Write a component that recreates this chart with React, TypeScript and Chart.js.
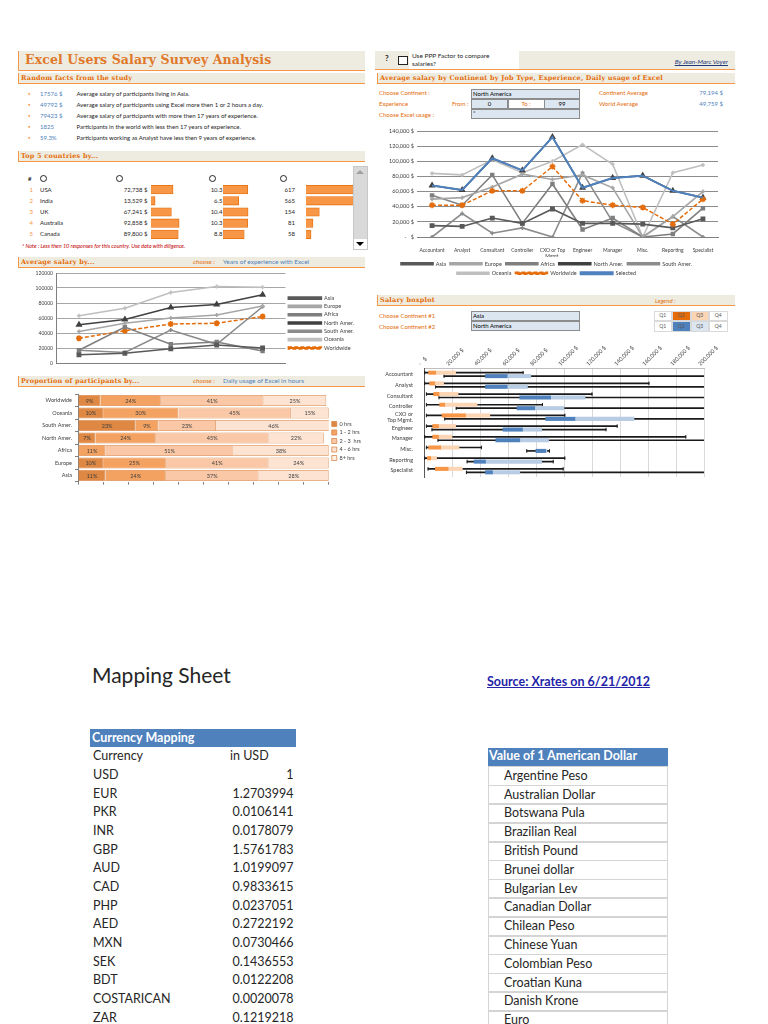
import React, { useEffect, useRef } from "react";
import { Chart, registerables } from "chart.js";
Chart.register(...registerables);

const SANS = "Lato, 'Liberation Sans', sans-serif";
const SERIF = "'DejaVu Serif', 'Liberation Serif', serif";
const ORANGE = "#E46C0A";
const BLUE = "#4F81BD";

// ---------- facts ----------
const factValues = ["17576 $", "49792 $", "79423 $", "1825", "59.3%"];
const factTexts = [
  "Average salary of participants living in Asia.",
  "Average salary of participants using Excel more then 1 or 2 hours a day.",
  "Average salary of participants with more then 17 years of experience.",
  "Participants in the world with less then 17 years of experience.",
  "Participants working as Analyst have less then 9 years of experience.",
];

// ---------- top 5 ----------
const top5Countries = ["USA", "India", "UK", "Australia", "Canada"];
const top5Salary = [72738, 13529, 67241, 92858, 89800];
const top5Experience = [10.3, 6.5, 10.4, 10.3, 8.8];
const top5Count = [617, 565, 154, 81, 58];

// ---------- salary by job type ----------
const jobTypes = ["Accountant", "Analyst", "Consultant", "Controller", ["CXO or Top", "Mgmt."], "Engineer", "Manager", "Misc.", "Reporting", "Specialist"];
const jobAsia = [15000, 14000, 25000, 18000, 37000, 18000, 18000, 17000, 12000, 24000];
const jobEurope = [50000, 52000, 66000, 83000, 76000, 82000, 65000, 0, 27000, 60000];
const jobAfrica = [55000, 42000, 82000, 18000, 70000, 10000, 25000, 0, 4000, 38000];
const jobNorthAmer = [68000, 62000, 104000, 88000, 132000, 65000, 78000, 81000, 61000, 52000];
const jobSouthAmer = [0, 31000, 5000, 12000, 0, 85000, 20000, 0, 27000, 0];
const jobOceania = [84000, 82000, 102000, 85000, 100000, 122000, 96000, 0, 85000, 95000];
const jobWorldwide = [42000, 42000, 61000, 61000, 93000, 48000, 42000, 39000, 17000, 50000];
const jobSelected = [68000, 62000, 104000, 88000, 132000, 65000, 78000, 81000, 61000, 52000];
const jobYTicks = [0, 20000, 40000, 60000, 80000, 100000, 120000, 140000];
const legendOrder = ["Asia", "Europe", "Africa", "North Amer.", "South Amer.", "Oceania", "Worldwide", "Selected"];

// ---------- salary by experience ----------
const expLabels = ["0 - 2 yrs", "2 - 5 yrs", "5 - 10 yrs", "10 - 15 yrs", "15+ yrs"];
const expAsia = [11000, 13000, 19000, 24000, 20000];
const expEurope = [42000, 53000, 60000, 64000, 76000];
const expAfrica = [17000, 48000, 25000, 28000, 16000];
const expNorthAmer = [51000, 58000, 74000, 78000, 91000];
const expSouthAmer = [17000, 14000, 44000, 25000, 75000];
const expOceania = [63000, 73000, 94000, 102000, 101000];
const expWorldwide = [33000, 43000, 52000, 53000, 62000];

// ---------- proportion ----------
const propRegions = ["Worldwide", "Oceania", "South Amer.", "North Amer.", "Africa", "Europe", "Asia"];
const propUsage = ["0 hrs", "1 - 2 hrs", "2 - 3  hrs", "4 - 6 hrs", "8+ hrs"];
const prop0 = [9, 10, 23, 7, 0, 10, 11];
const prop1 = [24, 30, 9, 24, 11, 25, 24];
const prop2 = [41, 45, 23, 45, 51, 41, 37];
const prop3 = [25, 15, 46, 22, 38, 24, 28];
const prop4 = [0, 0, 0, 0, 0, 0, 0];

// ---------- boxplot ----------
const boxCategories = ["Accountant", "Analyst", "Consultant", "Controller", ["CXO or", "Top Mgmt."], "Engineer", "Manager", "Misc.", "Reporting", "Specialist"];
const asiaMin = [500, 500, 1700, 1700, 1700, 1700, 500, 1700, 500, 2900];
const asiaQ1 = [3300, 4000, 6900, 11200, 12900, 6200, 6200, 3300, 2400, 8100];
const asiaMed = [8300, 7600, 10700, 14800, 29600, 10300, 10300, 11900, 4800, 17200];
const asiaQ3 = [22600, 14000, 24300, 37900, 47000, 22600, 20000, 25000, 9000, 27400];
const asiaMax = [70800, 160700, 120000, 84600, 100600, 138000, 187000, 41000, 100600, 99400];
const naMin = [14300, 8300, 10700, 23000, 14800, 5700, 10000, 73400, 30800, 30300];
const naQ1 = [43900, 43900, 68400, 66500, 87000, 56500, 51300, 79900, 35800, 43900];
const naMed = [59400, 59400, 90400, 79100, 107800, 70300, 68400, 86800, 43900, 48900];
const naQ3 = [76300, 73900, 115000, 100000, 150000, 84000, 89000, 87700, 84000, 68400];
const naMax = [240000, 240000, 240000, 240000, 240000, 130000, 240000, 89600, 92300, 240000];

// ---------- mapping sheet ----------
const currencyCodes = ["USD", "EUR", "PKR", "INR", "GBP", "AUD", "CAD", "PHP", "AED", "MXN", "SEK", "BDT", "COSTARICAN", "ZAR"];
const currencyRates = ["1", "1.2703994", "0.0106141", "0.0178079", "1.5761783", "1.0199097", "0.9833615", "0.0237051", "0.2722192", "0.0730466", "0.1436553", "0.0122208", "0.0020078", "0.1219218"];
const currencyNames = ["Argentine Peso", "Australian Dollar", "Botswana Pula", "Brazilian Real", "British Pound", "Brunei dollar", "Bulgarian Lev", "Canadian Dollar", "Chilean Peso", "Chinese Yuan", "Colombian Peso", "Croatian Kuna", "Danish Krone", "Euro"];

const money = (v: number) => (v === 0 ? "-   $" : Number(v).toLocaleString("en-US") + " $");

function ChartCanvas({ left, top, width, height, make }: any) {
  const ref = useRef<HTMLCanvasElement>(null);
  useEffect(() => {
    const chart = new Chart(ref.current as HTMLCanvasElement, make());
    return () => chart.destroy();
  }, []);
  return <canvas ref={ref} width={width} height={height} style={{ position: "absolute", left, top, width, height }} />;
}

function Tx({ x, y, children, size = 6, color = "#262626", align = "left", bold, italic, font = SANS, style }: any) {
  const s: any = {
    position: "absolute",
    top: y - size * 0.65,
    lineHeight: `${size * 1.3}px`,
    fontSize: size,
    color,
    fontFamily: font,
    whiteSpace: "nowrap",
    fontWeight: bold ? "bold" : "normal",
    fontStyle: italic ? "italic" : "normal",
    ...style,
  };
  if (align === "right") s.right = 768 - x;
  else if (align === "center") {
    s.left = x - 60;
    s.width = 120;
    s.textAlign = "center";
  } else s.left = x;
  return <div style={s}>{children}</div>;
}

function Box({ x, y, w, h, bg = "transparent", border, style }: any) {
  return <div style={{ position: "absolute", left: x, top: y, width: w, height: h, background: bg, border, boxSizing: "border-box", ...style }} />;
}

function Section({ x, y, w, title }: any) {
  return (
    <>
      <Box x={x} y={y} w={w} h={11} bg="#EEECE1" style={{ borderLeft: "1px solid #F79646", borderBottom: "1px solid #F79646" }} />
      <Tx x={x + 3} y={y + 5.5} size={6.5} color={ORANGE} font={SERIF} bold style={{ letterSpacing: 0.2 }}>
        {title}
      </Tx>
    </>
  );
}

const line = (label: string, data: number[], color: string, extra: any = {}) => ({
  type: "line",
  label,
  data,
  borderColor: color,
  backgroundColor: color,
  borderWidth: 1.6,
  pointRadius: 2,
  pointStyle: "rect",
  ...extra,
});

const tickFont = { size: 5.5, family: SANS };

function jobConfig() {
  return {
    type: "line",
    data: {
      labels: jobTypes,
      datasets: [
        line("Selected", jobSelected, BLUE, { pointRadius: 0, borderWidth: 2 }),
        line("Worldwide", jobWorldwide, ORANGE, { borderDash: [4, 2], pointStyle: "star", pointRadius: 3, borderWidth: 1.5 }),
        line("Asia", jobAsia, "#595959", { pointStyle: "rect", pointRadius: 2.3 }),
        line("Europe", jobEurope, "#A6A6A6", { pointStyle: "cross", pointRadius: 2 }),
        line("Africa", jobAfrica, "#7F7F7F", { pointStyle: "rect", pointRadius: 2 }),
        line("North Amer.", jobNorthAmer, "#404040", { pointStyle: "triangle", pointRadius: 2.5 }),
        line("South Amer.", jobSouthAmer, "#8C8C8C", { pointStyle: "cross", pointRadius: 2 }),
        line("Oceania", jobOceania, "#BFBFBF", { pointStyle: "cross", pointRadius: 2 }),
      ],
    },
    options: {
      animation: false,
      responsive: false,
      layout: { padding: { top: 9, right: 12, left: 0, bottom: 2 } },
      plugins: {
        legend: {
          position: "bottom",
          labels: {
            boxWidth: 32,
            boxHeight: 2,
            font: tickFont,
            color: "#404040",
            padding: 4,
            sort: (a: any, b: any) => legendOrder.indexOf(a.text) - legendOrder.indexOf(b.text),
          },
        },
        tooltip: { enabled: false },
      },
      scales: {
        x: {
          offset: true,
          grid: { display: false },
          border: { color: "#808080" },
          ticks: { font: { size: 5, family: SANS }, color: "#404040", maxRotation: 0, autoSkip: false, padding: 2 },
          afterFit: (s: any) => { s.height = 20; },
        },
        y: {
          min: 0,
          max: 140000,
          afterBuildTicks: (s: any) => { s.ticks = jobYTicks.map((v) => ({ value: v })); },
          ticks: { font: tickFont, color: "#404040", callback: (v: any) => money(v), padding: 3 },
          grid: { color: "#8C8C8C", drawTicks: false },
          border: { display: false },
          afterFit: (s: any) => { s.width = 42; },
        },
      },
    },
  };
}

function expConfig() {
  return {
    type: "line",
    data: {
      labels: expLabels,
      datasets: [
        line("Asia", expAsia, "#595959", { pointStyle: "rect", pointRadius: 2.3 }),
        line("Europe", expEurope, "#A6A6A6", { pointStyle: "cross", pointRadius: 2 }),
        line("Africa", expAfrica, "#7F7F7F", { pointStyle: "rect", pointRadius: 2 }),
        line("North Amer.", expNorthAmer, "#404040", { pointStyle: "triangle", pointRadius: 2.5 }),
        line("South Amer.", expSouthAmer, "#8C8C8C", { pointStyle: "cross", pointRadius: 2 }),
        line("Oceania", expOceania, "#BFBFBF", { pointStyle: "cross", pointRadius: 2 }),
        line("Worldwide", expWorldwide, ORANGE, { borderDash: [4, 2], pointStyle: "star", pointRadius: 3, borderWidth: 1.5 }),
      ],
    },
    options: {
      animation: false,
      responsive: false,
      layout: { padding: { top: 7, right: 6, left: 0, bottom: 1 } },
      plugins: {
        legend: { position: "right", labels: { boxWidth: 33, boxHeight: 2, font: tickFont, color: "#404040", padding: 2.8 } },
        tooltip: { enabled: false },
      },
      scales: {
        x: {
          offset: true,
          grid: { display: false },
          border: { color: "#808080" },
          ticks: { font: { size: 5, family: SANS }, color: "#404040", maxRotation: 0, autoSkip: false, padding: 2 },
          afterFit: (s: any) => { s.height = 10; },
        },
        y: {
          min: 0,
          max: 120000,
          ticks: { stepSize: 20000, font: { size: 5, family: SANS }, color: "#404040", padding: 3, callback: (v: any) => String(v) },
          grid: { color: "#A6A6A6", drawTicks: false },
          border: { color: "#808080" },
          afterFit: (s: any) => { s.width = 41; },
        },
      },
    },
  };
}

const pctLabels = {
  id: "pctLabels",
  afterDatasetsDraw(chart: any) {
    const { ctx } = chart;
    ctx.save();
    ctx.font = `5.5px ${SANS}`;
    ctx.fillStyle = "#3F3F3F";
    ctx.textAlign = "center";
    ctx.textBaseline = "middle";
    chart.data.datasets.forEach((ds: any, i: number) => {
      const meta = chart.getDatasetMeta(i);
      meta.data.forEach((el: any, j: number) => {
        const v = ds.data[j];
        if (!v) return;
        ctx.fillText(v + "%", (el.x + el.base) / 2, el.y + 0.5);
      });
    });
    ctx.restore();
  },
};

function propConfig() {
  const colors = ["#DE8844", "#F4A262", "#FAC8A6", "#FDE3D2", "#FEF1E8"];
  const sets = [prop0, prop1, prop2, prop3, prop4];
  return {
    type: "bar",
    data: {
      labels: propRegions,
      datasets: sets.map((d, i) => ({
        label: propUsage[i],
        data: d,
        backgroundColor: colors[i],
        borderColor: "#D9874A",
        borderWidth: 0.8,
        barPercentage: 0.88,
        categoryPercentage: 1,
      })),
    },
    plugins: [pctLabels],
    options: {
      animation: false,
      responsive: false,
      indexAxis: "y",
      layout: { padding: { top: 6, right: 4, left: 0, bottom: 0 } },
      plugins: {
        legend: { position: "right", labels: { boxWidth: 5, boxHeight: 5, font: tickFont, color: "#404040", padding: 3 } },
        tooltip: { enabled: false },
      },
      scales: {
        x: {
          stacked: true,
          min: 0,
          max: 100,
          ticks: { display: false, stepSize: 10 },
          grid: { drawOnChartArea: false, tickLength: 3, color: "#808080" },
          border: { display: false },
          afterFit: (s: any) => { s.height = 3; },
        },
        y: {
          stacked: true,
          ticks: { font: tickFont, color: "#404040", padding: 3 },
          grid: { drawOnChartArea: false, tickLength: 3, color: "#808080", offset: true },
          border: { color: "#808080" },
          afterFit: (s: any) => { s.width = 63; },
        },
      },
    },
  };
}

function boxConfig() {
  const off = 0.16;
  const rng = (a: number[], b: number[], dy: number) => a.map((v, i) => ({ x: [v, b[i]], y: i + dy }));
  const caps = (a: number[], b: number[], dy: number) => a.map((v, i) => ({ x: v, y: i + dy })).concat(b.map((v, i) => ({ x: v, y: i + dy })));
  const bar = (data: any, color: string, thick: number, order: number) => ({ type: "bar", data, backgroundColor: color, barThickness: thick, grouped: false, order });
  return {
    type: "bar",
    data: {
      datasets: [
        bar(rng(asiaQ1, asiaMed, -off), "#F79646", 3.4, 1),
        bar(rng(asiaMed, asiaQ3, -off), "#FCD5B4", 3.4, 1),
        bar(rng(naQ1, naMed, off), BLUE, 3.4, 1),
        bar(rng(naMed, naQ3, off), "#B8CCE4", 3.4, 1),
        bar(rng(asiaMin, asiaMax, -off), "#1A1A1A", 1, 3),
        bar(rng(naMin, naMax, off), "#1A1A1A", 1, 3),
        { type: "scatter", data: caps(asiaMin, asiaMax, -off).concat(caps(naMin, naMax, off)), pointStyle: "line", rotation: 90, pointRadius: 1.8, borderColor: "#1A1A1A", borderWidth: 1, order: 2 },
      ],
    },
    options: {
      animation: false,
      responsive: false,
      indexAxis: "y",
      layout: { padding: { top: 0, right: 31, left: 0, bottom: 9 } },
      plugins: { legend: { display: false }, tooltip: { enabled: false } },
      scales: {
        x: {
          type: "linear",
          position: "top",
          min: 0,
          max: 200000,
          offset: false,
          ticks: { stepSize: 20000, font: tickFont, color: "#404040", minRotation: 45, maxRotation: 45, autoSkip: false, callback: (v: any) => money(v), padding: 1 },
          grid: { color: "#D9D9D9", drawTicks: false, offset: false },
          border: { color: "#BFBFBF" },
          afterFit: (s: any) => { s.height = 32; },
        },
        y: {
          type: "linear",
          min: -0.6,
          max: 9.6,
          offset: false,
          reverse: true,
          afterBuildTicks: (s: any) => { s.ticks = boxCategories.map((_, i) => ({ value: i })); },
          ticks: { font: tickFont, color: "#404040", autoSkip: false, callback: (v: any) => boxCategories[v], padding: 3 },
          grid: { display: false, offset: false },
          border: { color: "#595959" },
          afterFit: (s: any) => { s.width = 49; },
        },
      },
    },
  };
}

const miniBar = (data: number[], max: number) => () => ({
  type: "bar",
  data: { labels: top5Countries, datasets: [{ data, backgroundColor: "#F79646", borderColor: "#E46C0A", borderWidth: 0.8, barThickness: 8.5 }] },
  options: {
    animation: false,
    responsive: false,
    indexAxis: "y",
    layout: { padding: 0 },
    plugins: { legend: { display: false }, tooltip: { enabled: false } },
    scales: { x: { display: false, min: 0, max }, y: { display: false } },
  },
});

function Radio({ x, y }: any) {
  return <div style={{ position: "absolute", left: x - 3.5, top: y - 3.5, width: 7, height: 7, borderRadius: "50%", border: "1.2px solid #222", boxSizing: "border-box" }} />;
}

export default function App() {
  const rowY = (i: number) => 189.7 + i * 11.15;
  return (
    <div style={{ position: "absolute", left: 0, top: 0, width: 768, height: 1024, background: "#fff", overflow: "hidden", fontFamily: SANS }}>
      {/* ===== title ===== */}
      <Box x={18} y={51} w={347} h={20} bg="#EEECE1" style={{ borderLeft: "1px solid #F79646", borderBottom: "1.5px solid #F79646" }} />
      <Tx x={25} y={60.5} size={12.5} color="#E0782A" font={SERIF} bold style={{ letterSpacing: 0.1 }}>
        Excel Users Salary Survey Analysis
      </Tx>

      {/* right header */}
      <Box x={375} y={51} w={360} h={19} bg="#EEECE1" style={{ borderBottom: "1.5px solid #F79646" }} />
      <Box x={409} y={51} w={110} h={18} bg="#FFFFFF" />
      <Tx x={385} y={58} size={8} color="#262626" bold>?</Tx>
      <Box x={398} y={56} w={10} h={9} border="1.2px solid #222" bg="#fff" />
      <Tx x={412} y={56.5} size={6.5} color="#262626">Use PPP Factor to compare</Tx>
      <Tx x={412} y={64} size={6.5} color="#262626">salaries?</Tx>
      <Tx x={728} y={62} size={6.5} color="#1F3A7A" align="right" italic style={{ textDecoration: "underline" }}>By Jean-Marc Voyer</Tx>

      {/* ===== random facts ===== */}
      <Section x={18} y={73} w={347} title="Random facts from the study" />
      {factValues.map((v, i) => (
        <React.Fragment key={i}>
          <Tx x={28} y={93.5 + i * 11} size={6} color="#F79646">▪</Tx>
          <Tx x={40} y={93.5 + i * 11} size={6} color={BLUE}>{v}</Tx>
          <Tx x={76.5} y={93.5 + i * 11} size={6} color="#262626">{factTexts[i]}</Tx>
        </React.Fragment>
      ))}

      {/* ===== top 5 ===== */}
      <Section x={18} y={151} w={347} title="Top 5 countries by..." />
      <Tx x={28} y={178.5} size={6} bold>#</Tx>
      <Radio x={43.5} y={178.5} />
      <Radio x={119.5} y={178.5} />
      <Radio x={212.5} y={178.5} />
      <Radio x={283} y={178.5} />
      {top5Countries.map((c, i) => (
        <React.Fragment key={c}>
          <Tx x={29.5} y={rowY(i)} size={6} color="#F79646">{i + 1}</Tx>
          <Tx x={40} y={rowY(i)} size={6}>{c}</Tx>
          <Tx x={147.5} y={rowY(i)} size={6} align="right">{top5Salary[i].toLocaleString("en-US") + "  $"}</Tx>
          <Tx x={222.5} y={rowY(i)} size={6} align="right">{top5Experience[i].toFixed(1)}</Tx>
          <Tx x={295} y={rowY(i)} size={6} align="right">{top5Count[i]}</Tx>
        </React.Fragment>
      ))}
      <ChartCanvas left={151} top={184} width={40} height={56} make={miniBar(top5Salary, 132000)} />
      <ChartCanvas left={223} top={184} width={40} height={56} make={miniBar(top5Experience, 16.6)} />
      <ChartCanvas left={306} top={184} width={47} height={56} make={miniBar(top5Count, 543)} />
      {/* scrollbar */}
      <Box x={353} y={166} w={15} h={84} bg="#D9D9D9" border="1px solid #C8C8C8" />
      <div style={{ position: "absolute", left: 356, top: 170, width: 0, height: 0, borderLeft: "4.5px solid transparent", borderRight: "4.5px solid transparent", borderBottom: "4px solid #A0A0A0" }} />
      <Box x={354} y={239} w={13} h={10} bg="#FFFFFF" />
      <div style={{ position: "absolute", left: 356, top: 242, width: 0, height: 0, borderLeft: "4.5px solid transparent", borderRight: "4.5px solid transparent", borderTop: "4.5px solid #000" }} />
      <Tx x={22} y={247} size={5.5} color="#C00000" italic>* Note : Less then 10 responses for this country. Use data with diligence.</Tx>

      {/* ===== average by experience ===== */}
      <Section x={18} y={257} w={347} title="Average salary by..." />
      <Tx x={193} y={262.5} size={6.5} color={ORANGE} italic>choose :</Tx>
      <Tx x={223} y={262.5} size={6.5} color={BLUE}>Years of experience with Excel</Tx>
      <ChartCanvas left={15} top={266} width={355} height={108} make={expConfig} />

      {/* ===== proportion ===== */}
      <Section x={18} y={376} w={347} title="Proportion of participants by..." />
      <Tx x={193} y={381.5} size={6.5} color={ORANGE} italic>choose :</Tx>
      <Tx x={223} y={381.5} size={6.5} color={BLUE}>Daily usage of Excel in hours</Tx>
      <ChartCanvas left={15} top={388} width={360} height={100} make={propConfig} />

      {/* ===== right: job type ===== */}
      <Section x={377} y={73} w={358} title="Average salary by Continent by Job Type, Experience, Daily usage of Excel" />
      <Tx x={379} y={93.3} size={6} color={ORANGE}>Choose Continent :</Tx>
      <Tx x={379} y={104} size={6} color={ORANGE}>Experience</Tx>
      <Tx x={468.5} y={104} size={6} color={ORANGE} align="right">From :</Tx>
      <Tx x={379} y={114.5} size={6} color={ORANGE}>Choose Excel usage :</Tx>
      <Box x={471} y={88.5} w={109} h={10.5} bg="#DCE6F1" border="1px solid #8C8C8C" />
      <Tx x={473} y={93.5} size={6} color="#000">North America</Tx>
      <Box x={471} y={98.5} w={37} h={10.5} bg="#DCE6F1" border="1px solid #8C8C8C" />
      <Box x={507.5} y={98.5} w={37} h={10.5} bg="#FFFFFF" border="1px solid #8C8C8C" />
      <Box x={544} y={98.5} w={36} h={10.5} bg="#DCE6F1" border="1px solid #8C8C8C" />
      <Tx x={489.5} y={104} size={6} color="#000" align="center">0</Tx>
      <Tx x={526} y={104} size={6} color={ORANGE} align="center">To :</Tx>
      <Tx x={562} y={104} size={6} color="#000" align="center">99</Tx>
      <Box x={471} y={108.5} w={109} h={10.5} bg="#DCE6F1" border="1px solid #8C8C8C" />
      <Tx x={473} y={112.5} size={6} color="#000">*</Tx>
      <Tx x={599} y={93.3} size={6} color={ORANGE}>Continent Average</Tx>
      <Tx x={723} y={93.3} size={6} color={BLUE} align="right">79,194 $</Tx>
      <Tx x={599} y={104} size={6} color={ORANGE}>World Average</Tx>
      <Tx x={723} y={104} size={6} color={BLUE} align="right">49,759 $</Tx>
      <ChartCanvas left={375} top={122} width={355} height={166} make={jobConfig} />

      {/* ===== boxplot ===== */}
      <Section x={377} y={295} w={358} title="Salary boxplot" />
      <Tx x={655} y={300.5} size={6} color={ORANGE} italic>Legend :</Tx>
      <Tx x={379} y={315.7} size={6} color={ORANGE}>Choose Continent #1</Tx>
      <Tx x={379} y={326.5} size={6} color={ORANGE}>Choose Continent #2</Tx>
      <Box x={471} y={310.5} w={109} h={10.5} bg="#DCE6F1" border="1px solid #8C8C8C" />
      <Tx x={473} y={315.7} size={6} color="#000">Asia</Tx>
      <Box x={471} y={320.5} w={109} h={10.5} bg="#DCE6F1" border="1px solid #8C8C8C" />
      <Tx x={473} y={326} size={6} color="#000">North America</Tx>
      {["#FFFFFF", ORANGE, "#FCD5B4", "#FFFFFF"].map((c, i) => (
        <React.Fragment key={"l1" + i}>
          <Box x={653.5 + i * 18.5} y={310.5} w={18.5} h={10.5} bg={c} border="0.5px solid #D9D9D9" />
          <Tx x={662.75 + i * 18.5} y={315.7} size={5} color="#595959" align="center">{"Q" + (i + 1)}</Tx>
        </React.Fragment>
      ))}
      {["#FFFFFF", BLUE, "#DCE6F1", "#FFFFFF"].map((c, i) => (
        <React.Fragment key={"l2" + i}>
          <Box x={653.5 + i * 18.5} y={321} w={18.5} h={10.5} bg={c} border="0.5px solid #D9D9D9" />
          <Tx x={662.75 + i * 18.5} y={326.2} size={5} color="#595959" align="center">{"Q" + (i + 1)}</Tx>
        </React.Fragment>
      ))}
      <ChartCanvas left={375} top={336} width={360} height={150} make={boxConfig} />

      {/* ===== mapping sheet ===== */}
      <Tx x={92} y={675} size={21} color="#262626">Mapping Sheet</Tx>
      <Tx x={487} y={682} size={12.5} color="#2424A8" bold style={{ textDecoration: "underline" }}>Source: Xrates on 6/21/2012</Tx>

      <Box x={90} y={729} w={206} h={18} bg={BLUE} />
      <Tx x={92} y={738} size={12.5} color="#fff" bold>Currency Mapping</Tx>
      <Tx x={93} y={756.3} size={12.5}>Currency</Tx>
      <Tx x={230} y={756.3} size={12.5}>in USD</Tx>
      {currencyCodes.map((c, i) => (
        <React.Fragment key={c}>
          <Tx x={93} y={775 + i * 18.67} size={12.5}>{c}</Tx>
          <Tx x={293.5} y={775 + i * 18.67} size={12.5} align="right">{currencyRates[i]}</Tx>
        </React.Fragment>
      ))}

      <Box x={487.5} y={747.5} w={180} h={18.5} bg={BLUE} />
      <Tx x={489} y={756.5} size={12.5} color="#fff" bold>Value of 1 American Dollar</Tx>
      {currencyNames.map((n, i) => (
        <React.Fragment key={n}>
          <Box x={487.5} y={766.3 + i * 18.8} w={180} h={19.3} border="1px solid #D4D4D4" />
          <Tx x={504} y={776 + i * 18.8} size={12.5}>{n}</Tx>
        </React.Fragment>
      ))}
    </div>
  );
}
